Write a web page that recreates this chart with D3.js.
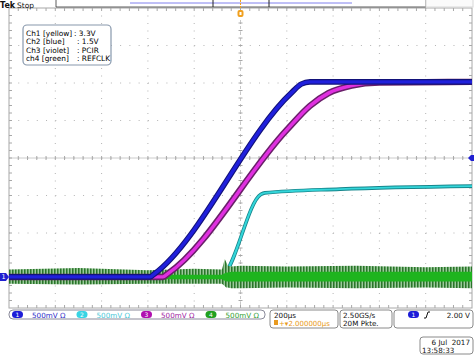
<!DOCTYPE html>
<html>
<head>
<meta charset="utf-8">
<script src="https://cdn.jsdelivr.net/npm/d3@7"></script>
<style>
  body { margin: 0; background: #fff; }
  svg { display: block; }
  text { font-family: "DejaVu Sans", Verdana, sans-serif; }
</style>
</head>
<body>
<svg id="scope" width="474" height="355"></svg>
<script>
// Scope capture: 4 channels, 200 µs/div, 500 mV/div, all grounds at the same level.
const timeDomain = [-1000, 1000];   // µs, 10 divisions of 200 µs
const voltsPerDiv = 0.5;
const groundDiv = -3.17;            // channel ground, divisions below center

// ch1 (blue)
const ch1Time = [-1000, -390, -372, 222, 262, 300, 1000];
const ch1Volt = [0, 0, 0.04, 2.46, 2.57, 2.6, 2.6];
// ch3 (magenta)
const ch3Time = [-1000, -335, -315, 200, 300, 380, 480, 600, 1000];
const ch3Volt = [0, 0, 0.04, 1.96, 2.28, 2.45, 2.55, 2.59, 2.6];
// ch2 (cyan)
const ch2Time = [-1000, -80, -70, 88, 105, 430, 1000];
const ch2Volt = [0, 0, 0.03, 1.1, 1.12, 1.17, 1.21];
// ch4 (green) envelope: core band and noise spikes
const ch4Time    = [-1000, -700, -400, -200, -80, -68, -62, -55, -40, 0, 200, 500, 800, 1000];
const ch4CoreHi  = [0.03, 0.03, 0.03, 0.03, 0.03, 0.05, 0.06, 0.06, 0.07, 0.07, 0.07, 0.07, 0.07, 0.07];
const ch4CoreLo  = [-0.03, -0.03, -0.03, -0.03, -0.03, -0.05, -0.06, -0.06, -0.06, -0.06, -0.06, -0.06, -0.06, -0.06];
const ch4HairHi  = [0.1, 0.12, 0.09, 0.11, 0.1, 0.24, 0.2, 0.15, 0.14, 0.15, 0.14, 0.15, 0.13, 0.14];
const ch4HairLo  = [-0.09, -0.1, -0.09, -0.09, -0.09, -0.12, -0.14, -0.14, -0.15, -0.15, -0.14, -0.15, -0.14, -0.15];

// annotation box + readouts
const noteLines = [["Ch1 [yellow]", ": 3.3V"], ["Ch2 [blue]", ": 1.5V"], ["Ch3 [violet]", ": PCIR"], ["ch4 [green]", ": REFCLK"]];
const chanReadouts = [
  { n: "1", label: "500mV \u03A9", fill: "#1c1cd8", text: "#2a2ac8" },
  { n: "2", label: "500mV \u03A9", fill: "#38d4e4", text: "#48c8d8" },
  { n: "3", label: "500mV \u03A9", fill: "#b010b0", text: "#a020a0" },
  { n: "4", label: "500mV \u03A9", fill: "#20a020", text: "#30a030" }
];
const timebase = ["200\u00B5s", "2.000000\u00B5s"];
const acq = ["2.50GS/s", "20M Pkte."];
const trigLevel = "2.00 V";
const stamp = ["6 Jul  2017", "13:58:33"];

const svg = d3.select('#scope');
const X0 = 9, X1 = 472, Y0 = 8, Y1 = 308;

const x = d3.scaleLinear().domain(timeDomain).range([X0, X1]);
const vLo = (-4 - groundDiv) * voltsPerDiv, vHi = (4 - groundDiv) * voltsPerDiv;
const y = d3.scaleLinear().domain([vLo, vHi]).range([Y1, Y0]);
const xDiv = d3.scaleLinear().domain([0, 10]).range([X0, X1]);
const yDiv = d3.scaleLinear().domain([0, 8]).range([Y0, Y1]);

// ---- graticule
const grid = svg.append('g').attr('class', 'grid');
const dx = (X1 - X0) / 50, dy = (Y1 - Y0) / 40;
d3.range(1, 10).forEach(i => {
  grid.append('line').attr('x1', xDiv(i)).attr('x2', xDiv(i)).attr('y1', Y0).attr('y2', Y1)
    .attr('stroke', '#b4b4b4').attr('stroke-dasharray', `1,${dy - 1}`);
});
d3.range(1, 8).forEach(i => {
  grid.append('line').attr('x1', X0).attr('x2', X1).attr('y1', yDiv(i)).attr('y2', yDiv(i))
    .attr('stroke', '#b4b4b4').attr('stroke-dasharray', `1,${dx - 1}`);
});
// center crosshair with minor ticks
const cx = xDiv(5), cy = yDiv(4);
grid.append('line').attr('x1', X0).attr('x2', X1).attr('y1', cy).attr('y2', cy).attr('stroke', '#cccccc');
grid.append('line').attr('x1', cx).attr('x2', cx).attr('y1', Y0).attr('y2', Y1).attr('stroke', '#c8c8c8').attr('stroke-dasharray', '3,3');
d3.range(1, 50).forEach(i => {
  const px = X0 + i * dx;
  grid.append('line').attr('x1', px).attr('x2', px).attr('y1', cy - 2).attr('y2', cy + 2).attr('stroke', '#a8a8a8');
  grid.append('line').attr('x1', px).attr('x2', px).attr('y1', Y1).attr('y2', Y1 - 3).attr('stroke', '#a8a8a8');
  grid.append('line').attr('x1', px).attr('x2', px).attr('y1', Y0).attr('y2', Y0 + 3).attr('stroke', '#a8a8a8');
});
d3.range(1, 40).forEach(i => {
  const py = Y0 + i * dy;
  grid.append('line').attr('x1', cx - 2).attr('x2', cx + 2).attr('y1', py).attr('y2', py).attr('stroke', '#a8a8a8');
  grid.append('line').attr('x1', X0).attr('x2', X0 + 3).attr('y1', py).attr('y2', py).attr('stroke', '#a8a8a8');
  grid.append('line').attr('x1', X1).attr('x2', X1 - 3).attr('y1', py).attr('y2', py).attr('stroke', '#a8a8a8');
});
grid.append('rect').attr('x', X0).attr('y', Y0).attr('width', X1 - X0).attr('height', Y1 - Y0)
  .attr('fill', 'none').attr('stroke', '#a8a8a8');

// ---- traces
const defs = svg.append('defs');
const pat = defs.append('pattern').attr('id', 'hair').attr('patternUnits', 'userSpaceOnUse')
  .attr('width', 3).attr('height', 4);
pat.append('rect').attr('width', 1).attr('height', 4).attr('fill', '#2a742a');
pat.append('rect').attr('x', 1).attr('width', 1).attr('height', 4).attr('fill', '#5c9e5c');
pat.append('rect').attr('x', 2).attr('width', 1).attr('height', 4).attr('fill', '#9cc89c');

const line = d3.line().x(d => x(d[0])).y(d => y(d[1])).curve(d3.curveMonotoneX);
const zip = (a, b) => a.map((t, i) => [t, b[i]]);

function trace(t, v, outer, inner, wOut, wIn) {
  const data = zip(t, v);
  const g = svg.append('g');
  g.append('path').attr('d', line(data)).attr('fill', 'none').attr('stroke', outer)
    .attr('stroke-width', wOut).attr('stroke-linejoin', 'round');
  g.append('path').attr('d', line(data)).attr('fill', 'none').attr('stroke', inner)
    .attr('stroke-width', wIn).attr('stroke-linejoin', 'round');
}

trace(ch2Time, ch2Volt, '#16868c', '#34d6da', 3.6, 2);

const band = (lo, hi) => d3.area().x((d, i) => x(ch4Time[i])).y0((d, i) => y(lo[i])).y1((d, i) => y(hi[i]))(ch4Time);
svg.append('path').attr('d', band(ch4HairLo, ch4HairHi)).attr('fill', 'url(#hair)');
svg.append('path').attr('d', band(ch4CoreLo, ch4CoreHi)).attr('fill', '#1eb41e');

trace(ch3Time, ch3Volt, '#6a206a', '#e030e0', 6.5, 3.4);
trace(ch1Time, ch1Volt, '#12127a', '#2020dc', 5.6, 3.4);

// ---- markers
const gy = y(0);
svg.append('path').attr('d', `M0,${gy - 4}H6L9,${gy}L6,${gy + 4}H0Z`).attr('fill', '#2020d0');
svg.append('text').attr('x', 1.5).attr('y', gy + 2.5).attr('font-size', 6.5).attr('fill', '#fff').text('1');
svg.append('path').attr('d', `M474,${cy - 3}H471L468,${cy}L471,${cy + 3}H474Z`).attr('fill', '#2020d0');

// ---- top bar
svg.append('text').attr('x', 0).attr('y', 8).attr('font-size', 8).attr('font-weight', 'bold').attr('fill', '#111').text('Tek');
svg.append('text').attr('x', 17).attr('y', 8).attr('font-size', 7.5).attr('fill', '#111').text('Stop');
svg.append('path').attr('d', 'M56,0V7H426V0').attr('fill', 'none').attr('stroke', '#333').attr('stroke-width', 0.8);
svg.append('line').attr('x1', 130).attr('x2', 352).attr('y1', 3).attr('y2', 3).attr('stroke', '#8080ee');
[213, 269].forEach(px => svg.append('line').attr('x1', px).attr('x2', px).attr('y1', 0).attr('y2', 7).attr('stroke', '#222'));
svg.append('rect').attr('x', 426).attr('y', -1).attr('width', 47).attr('height', 8).attr('fill', '#fafafa').attr('stroke', '#d8d8d8');
svg.append('line').attr('x1', cx).attr('x2', cx).attr('y1', 0).attr('y2', 8).attr('stroke', '#f0a020').attr('stroke-dasharray', '2,1');
svg.append('rect').attr('x', cx - 3).attr('y', 10).attr('width', 6).attr('height', 7).attr('rx', 2).attr('fill', '#f0a020');
svg.append('rect').attr('x', cx - 1).attr('y', 12).attr('width', 2).attr('height', 3).attr('fill', '#fff');

// ---- annotation box
const note = svg.append('g');
note.append('rect').attr('x', 23).attr('y', 25).attr('width', 88).attr('height', 40).attr('rx', 4)
  .attr('fill', '#fff').attr('stroke', '#8898ac').attr('stroke-width', 1.2);
noteLines.forEach((l, i) => {
  note.append('text').attr('x', 26).attr('y', 36 + i * 8.4).attr('font-size', 7.4).attr('fill', '#000').text(l[0]);
  note.append('text').attr('x', i === 0 ? 74 : 77).attr('y', 36 + i * 8.4).attr('font-size', 7.4).attr('fill', '#000').text(l[1]);
});

// ---- bottom readouts
const bot = svg.append('g');
bot.append('rect').attr('x', 9).attr('y', 310).attr('width', 256).attr('height', 9).attr('rx', 4)
  .attr('fill', '#fff').attr('stroke', '#8a8a9a');
chanReadouts.forEach((c, i) => {
  const bx = 12 + i * 64.5;
  bot.append('rect').attr('x', bx).attr('y', 311).attr('width', 11).attr('height', 7).attr('rx', 3.5).attr('fill', c.fill);
  bot.append('text').attr('x', bx + 5.5).attr('y', 317).attr('text-anchor', 'middle').attr('font-size', 6).attr('fill', '#fff').text(c.n);
  bot.append('text').attr('x', bx + 20).attr('y', 317.5).attr('font-size', 7.2).attr('fill', c.text).text(c.label);
});
const box = (bx, by, w, h) => bot.append('rect').attr('x', bx).attr('y', by).attr('width', w).attr('height', h).attr('rx', 3)
  .attr('fill', '#fff').attr('stroke', '#8a8a8a');
box(270, 310, 68, 18);
bot.append('text').attr('x', 274).attr('y', 317.5).attr('font-size', 7.2).attr('fill', '#111').text(timebase[0]);
bot.append('rect').attr('x', 274).attr('y', 320).attr('width', 4).attr('height', 5).attr('fill', '#e89a20');
bot.append('text').attr('x', 279).attr('y', 326).attr('font-size', 7).attr('fill', '#e89a20').text('+\u25BE' + timebase[1]);
box(340, 310, 52, 18);
bot.append('text').attr('x', 343).attr('y', 317.5).attr('font-size', 7.2).attr('fill', '#111').text(acq[0]);
bot.append('text').attr('x', 343).attr('y', 326).attr('font-size', 7.2).attr('fill', '#111').text(acq[1]);
box(394, 310, 79, 18);
bot.append('rect').attr('x', 408).attr('y', 311).attr('width', 11).attr('height', 7).attr('rx', 3.5).attr('fill', '#1c1cd8');
bot.append('text').attr('x', 413.5).attr('y', 317).attr('text-anchor', 'middle').attr('font-size', 6).attr('fill', '#fff').text('1');
bot.append('path').attr('d', 'M424,318H426L428,312H430').attr('fill', 'none').attr('stroke', '#111').attr('stroke-width', 1);
bot.append('text').attr('x', 470).attr('y', 317.5).attr('text-anchor', 'end').attr('font-size', 7.2).attr('fill', '#111').text(trigLevel);
box(420, 337, 53, 17);
bot.append('text').attr('x', 470).attr('y', 344.5).attr('text-anchor', 'end').attr('font-size', 7.2).attr('fill', '#111').attr('xml:space', 'preserve').text(stamp[0]);
bot.append('text').attr('x', 422).attr('y', 352.5).attr('font-size', 7.2).attr('fill', '#111').text(stamp[1]);
</script>
</body>
</html>
